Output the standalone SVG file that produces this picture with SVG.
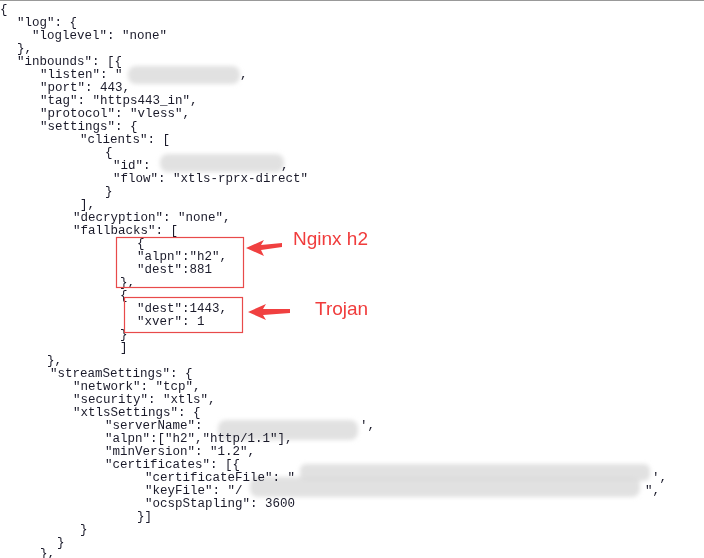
<svg xmlns="http://www.w3.org/2000/svg" width="704" height="558" viewBox="0 0 704 558">
<defs>
<style>
.c{font-family:"Liberation Mono","DejaVu Sans Mono",monospace;font-size:12.5px;fill:#1a1a2a;white-space:pre}
.a{font-family:"Liberation Sans","Noto Sans",sans-serif;font-size:19px;fill:#f03c3c}
.box{fill:none;stroke:#e84a4a;stroke-width:1.2}
.blur{fill:#dcdcdc;opacity:.85}
</style>
<filter id="bl"><feGaussianBlur stdDeviation="2"/></filter>
</defs>
<rect width="704" height="558" fill="#fff"/>
<line x1="0" y1="0.5" x2="704" y2="0.5" stroke="#999"/>
<g id="blurs" filter="url(#bl)">
<rect class="blur" x="128" y="66" width="112" height="18" rx="8"/>
<rect class="blur" x="160" y="154" width="124" height="18" rx="8"/>
<rect class="blur" x="218" y="420" width="140" height="20" rx="8"/>
<rect class="blur" x="300" y="464" width="350" height="17" rx="6"/>
<rect class="blur" x="250" y="477" width="390" height="20" rx="8"/>
</g>
<g id="code">
<text class="c" x="0" y="13">{</text>
<text class="c" x="17" y="26">"log": {</text>
<text class="c" x="32" y="39">"loglevel": "none"</text>
<text class="c" x="17" y="52">},</text>
<text class="c" x="17" y="65">"inbounds": [{</text>
<text class="c" x="40" y="78">"listen": "</text>
<text class="c" x="240" y="78">,</text>
<text class="c" x="40" y="91">"port": 443,</text>
<text class="c" x="40" y="104">"tag": "https443_in",</text>
<text class="c" x="40" y="117">"protocol": "vless",</text>
<text class="c" x="40" y="130">"settings": {</text>
<text class="c" x="80" y="143">"clients": [</text>
<text class="c" x="105" y="156">{</text>
<text class="c" x="113" y="169">"id":</text>
<text class="c" x="281" y="169">,</text>
<text class="c" x="113" y="182">"flow": "xtls-rprx-direct"</text>
<text class="c" x="105" y="195">}</text>
<text class="c" x="80" y="208">],</text>
<text class="c" x="73" y="221">"decryption": "none",</text>
<text class="c" x="73" y="234">"fallbacks": [</text>
<text class="c" x="137" y="247">{</text>
<text class="c" x="137" y="260">"alpn":"h2",</text>
<text class="c" x="137" y="273">"dest":881</text>
<text class="c" x="120" y="286">},</text>
<text class="c" x="120" y="299">{</text>
<text class="c" x="137" y="312">"dest":1443,</text>
<text class="c" x="137" y="325">"xver": 1</text>
<text class="c" x="120" y="338">}</text>
<text class="c" x="120" y="351">]</text>
<text class="c" x="47" y="364">},</text>
<text class="c" x="50" y="377">"streamSettings": {</text>
<text class="c" x="73" y="390">"network": "tcp",</text>
<text class="c" x="73" y="403">"security": "xtls",</text>
<text class="c" x="73" y="416">"xtlsSettings": {</text>
<text class="c" x="105" y="429">"serverName":</text>
<text class="c" x="360" y="429">',</text>
<text class="c" x="105" y="442">"alpn":["h2","http/1.1"],</text>
<text class="c" x="105" y="455">"minVersion": "1.2",</text>
<text class="c" x="105" y="468">"certificates": [{</text>
<text class="c" x="145" y="481">"certificateFile": "</text>
<text class="c" x="652" y="481">',</text>
<text class="c" x="145" y="494">"keyFile": "/</text>
<text class="c" x="645" y="494">",</text>
<text class="c" x="145" y="507">"ocspStapling": 3600</text>
<text class="c" x="137" y="520">}]</text>
<text class="c" x="80" y="533">}</text>
<text class="c" x="57" y="546">}</text>
<text class="c" x="40" y="557">},</text>
</g>
<g id="box-nginx"><rect class="box" x="116.5" y="237.5" width="127" height="50"/></g>
<g id="box-trojan"><rect class="box" x="124.5" y="297.5" width="118" height="35"/></g>
<g id="connectors" fill="#f04040">
<polygon points="246,248 264,240 261,245 282,243 282,247 261,250 264,256"/>
<polygon points="248,312 266,304 263,309 290,309 290,313 263,315 266,320"/>
</g>
<g id="label-nginx"><text class="a" x="293" y="245">Nginx h2</text></g>
<g id="label-trojan"><text class="a" x="315" y="315">Trojan</text></g>
</svg>
